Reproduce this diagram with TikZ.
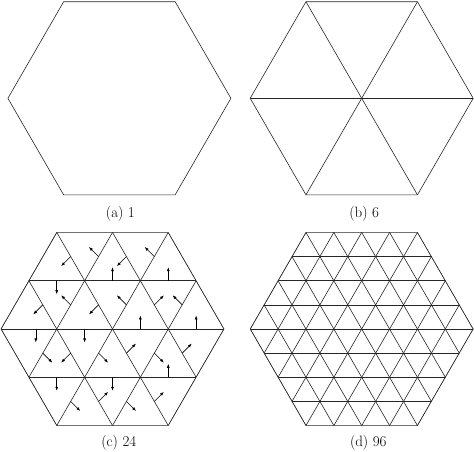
\documentclass[tikz,border=0pt]{standalone}
\usetikzlibrary{positioning}
\usetikzlibrary{arrows.meta}

\tikzset{
  mesh/.style={draw=black!85, line width=0.6pt},
  flux/.style={draw=black, line width=0.6pt, -{Latex[length=4pt,width=3pt]}},
  subcap/.style={font=\fontsize{15}{18}\selectfont}
}

\begin{document}
\begin{tikzpicture}[x=1pt, y=1pt]
    \useasboundingbox (0,0) rectangle (474,452);

    \coordinate (hexa) at (119.4,353.7);
    \coordinate (hexb) at (361.7,353.7);
    \coordinate (hexc) at (112.5,123);
    \coordinate (hexd) at (361.7,123);

    \begin{scope}[shift={(hexb)}]
        \clip (0:111.5) -- (60:111.5) -- (120:111.5) -- (180:111.5) -- (240:111.5) -- (300:111.5) -- cycle;
        \draw[mesh] (-120,0) -- (120,0);
        \draw[mesh] (240:130) -- (60:130);
        \draw[mesh] (300:130) -- (120:130);
    \end{scope}

    \begin{scope}[shift={(hexc)}]
        \clip (0:111.5) -- (60:111.5) -- (120:111.5) -- (180:111.5) -- (240:111.5) -- (300:111.5) -- cycle;
        \foreach \k in {-1,...,1}
            \draw[mesh] (-120,\k*48.28) -- (120,\k*48.28);
        \foreach \j in {-3,...,3} {
            \draw[mesh] (\j*55.75,0) ++(240:130) -- ++(60:260);
            \draw[mesh] (\j*55.75,0) ++(300:130) -- ++(120:260);
        }
    \end{scope}

    \begin{scope}[shift={(hexd)}]
        \clip (0:111.5) -- (60:111.5) -- (120:111.5) -- (180:111.5) -- (240:111.5) -- (300:111.5) -- cycle;
        \foreach \k in {-3,...,3}
            \draw[mesh] (-120,\k*24.14) -- (120,\k*24.14);
        \foreach \j in {-7,...,7} {
            \draw[mesh] (\j*27.875,0) ++(240:130) -- ++(60:260);
            \draw[mesh] (\j*27.875,0) ++(300:130) -- ++(120:260);
        }
    \end{scope}

    \draw[mesh] (hexa) ++(0:111.5) -- ++(120:111.5) -- ++(180:111.5) -- ++(240:111.5) -- ++(300:111.5) -- ++(0:111.5) -- cycle;
    \draw[mesh] (hexb) ++(0:111.5) -- ++(120:111.5) -- ++(180:111.5) -- ++(240:111.5) -- ++(300:111.5) -- ++(0:111.5) -- cycle;
    \draw[mesh] (hexc) ++(0:111.5) -- ++(120:111.5) -- ++(180:111.5) -- ++(240:111.5) -- ++(300:111.5) -- ++(0:111.5) -- cycle;
    \draw[mesh] (hexd) ++(0:111.5) -- ++(120:111.5) -- ++(180:111.5) -- ++(240:111.5) -- ++(300:111.5) -- ++(0:111.5) -- cycle;

    \begin{scope}[shift={(hexc)}, x=13.94pt, y=24.14pt]
        \draw[flux] (-3,3) -- ++(225:13.5pt);
        \draw[flux] (-1,3) -- ++(135:13.5pt);
        \draw[flux] (1,3) -- ++(225:13.5pt);
        \draw[flux] (3,3) -- ++(135:13.5pt);

        \draw[flux] (-4,2) -- ++(270:13.5pt);
        \draw[flux] (0,2) -- ++(90:13.5pt);
        \draw[flux] (4,2) -- ++(90:13.5pt);

        \draw[flux] (-5,1) -- ++(225:13.5pt);
        \draw[flux] (-3,1) -- ++(135:13.5pt);
        \draw[flux] (-1,1) -- ++(225:13.5pt);
        \draw[flux] (1,1) -- ++(135:13.5pt);
        \draw[flux] (3,1) -- ++(45:13.5pt);
        \draw[flux] (5,1) -- ++(135:13.5pt);

        \draw[flux] (-5.5,0) -- ++(270:13.5pt);
        \draw[flux] (-2,0) -- ++(270:13.5pt);
        \draw[flux] (2,0) -- ++(90:13.5pt);
        \draw[flux] (6,0) -- ++(90:13.5pt);

        \draw[flux] (-5,-1) -- ++(315:13.5pt);
        \draw[flux] (-3,-1) -- ++(225:13.5pt);
        \draw[flux] (-1,-1) -- ++(315:13.5pt);
        \draw[flux] (1,-1) -- ++(45:13.5pt);
        \draw[flux] (3,-1) -- ++(315:13.5pt);
        \draw[flux] (5,-1) -- ++(45:13.5pt);

        \draw[flux] (-4,-2) -- ++(270:13.5pt);
        \draw[flux] (0,-2) -- ++(270:13.5pt);
        \draw[flux] (4,-2) -- ++(90:13.5pt);

        \draw[flux] (-3,-3) -- ++(315:13.5pt);
        \draw[flux] (-1,-3) -- ++(45:13.5pt);
        \draw[flux] (1,-3) -- ++(315:13.5pt);
        \draw[flux] (3,-3) -- ++(45:13.5pt);
    \end{scope}

    \node[subcap] (capa) at (120.4,238.5) {(a) 1};
    \node[subcap] (capb) at (364.2,238.5) {(b) 6};
    \node[subcap] (capc) at (118.8,9.5) {(c) 24};
    \node[subcap] (capd) at (368.3,9.5) {(d) 96};
\end{tikzpicture}
\end{document}
